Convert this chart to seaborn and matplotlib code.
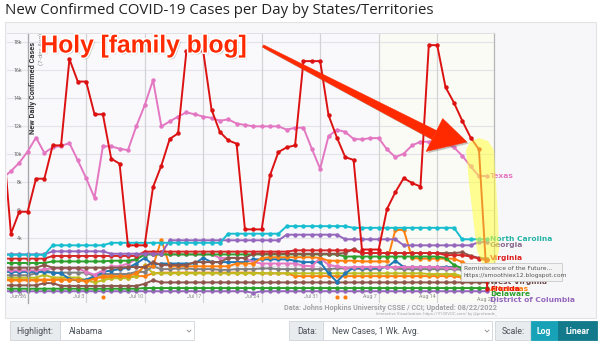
import numpy as np
import pandas as pd
import matplotlib
matplotlib.use("Agg")
import matplotlib.pyplot as plt
import seaborn as sns
import matplotlib.dates as mdates
from matplotlib.patches import Polygon, Rectangle
from matplotlib.lines import Line2D
from matplotlib import patheffects as pe
from matplotlib.transforms import ScaledTranslation

# ---------------- data (thousands of cases / day) ----------------
dates = pd.date_range("2022-06-23", "2022-08-20", freq="D")

florida = [11.5, 4.33, 5.9, 5.9, 8.26, 8.26, 10.64, 10.64, 16.8, 15.2, 15.2, 12.86, 12.86, 9.69, 9.33,
           3.5, 3.5, 3.5, 7.66, 9.2, 11.1, 11.5, 17.4, 17.4, 17.4, 13.2, 11.6, 11.0, 10.76, 4.64,
           4.64, 4.64, 8.5, 10.16, 10.5, 10.64, 16.66, 16.66, 16.66, 12.8, 11.2, 9.8, 9.6, 3.2, 3.2,
           3.2, 6.1, 7.3, 8.3, 7.95, 7.7, 17.8, 17.8, 14.8, 13.7, 12.4, 11.2, 10.35, 0.35]
texas = [8.3, 8.8, 9.4, 10.2, 11.2, 10.1, 10.5, 10.6, 10.8, 9.57, 8.3, 6.9, 10.57, 10.57, 10.4,
         10.3, 12.0, 13.5, 15.3, 12.0, 12.35, 12.7, 13.0, 12.86, 12.7, 12.6, 12.4, 12.5, 12.2, 12.1,
         12.0, 12.0, 12.0, 12.0, 11.76, 11.9, 11.9, 10.4, 8.97, 11.3, 11.76, 11.6, 11.1, 11.07, 11.16,
         11.16, 10.35, 9.8, 10.05, 10.64, 10.9, 10.9, 10.9, 10.8, 10.5, 9.9, 9.14, 8.45, 8.45]
north_carolina = [2.83, 2.83, 2.83, 2.83, 2.83, 2.83, 3.5, 3.5, 3.5, 3.5, 3.5, 3.5, 3.5, 3.68, 3.68,
                  3.68, 3.68, 3.68, 3.68, 3.68, 3.68, 3.68, 3.68, 3.68, 3.68, 3.68, 3.68, 4.33, 4.33, 4.33,
                  4.33, 4.33, 4.33, 4.33, 4.87, 4.87, 4.87, 4.87, 4.87, 4.87, 4.87, 4.87, 4.75, 4.75, 4.75,
                  4.75, 4.75, 4.75, 4.75, 4.75, 4.75, 4.75, 4.75, 4.75, 4.75, 3.93, 3.93, 3.93, 3.93]
georgia = [2.85, 2.85, 2.85, 2.85, 2.85, 2.85, 3.07, 3.07, 3.07, 3.07, 3.07, 3.07, 3.07, 2.9, 2.9,
           2.9, 2.9, 2.9, 2.9, 2.9, 3.86, 3.86, 3.86, 3.86, 3.86, 3.86, 3.86, 3.86, 3.86, 3.86,
           3.86, 3.86, 3.86, 3.86, 4.26, 4.26, 4.26, 4.26, 4.26, 4.26, 4.26, 3.93, 3.93, 3.93, 3.93,
           3.93, 3.93, 3.93, 3.5, 3.5, 3.5, 3.5, 3.5, 3.5, 3.5, 3.5, 3.5, 3.73, 3.73]
virginia = [2.55, 2.55, 2.55, 2.55, 2.55, 2.55, 2.74, 2.74, 2.74, 2.74, 2.74, 2.74, 2.74, 2.74, 2.74,
            2.74, 2.74, 3.05, 3.05, 3.05, 3.05, 3.05, 3.05, 3.05, 3.05, 3.05, 3.05, 3.05, 3.05, 3.05,
            3.05, 3.05, 3.05, 3.05, 3.05, 3.14, 3.14, 3.14, 3.14, 3.14, 3.14, 3.14, 3.14, 2.95, 2.95,
            2.95, 2.95, 2.95, 2.95, 2.95, 2.95, 2.95, 2.95, 2.8, 2.8, 2.8, 2.7, 2.55, 2.43]
pennsylvania = [1.9, 1.9, 1.9, 1.9, 1.9, 2.1, 1.9, 1.9, 1.9, 1.9, 1.9, 1.9, 1.9, 1.9, 1.9,
                1.95, 1.95, 1.95, 2.3, 2.1, 2.1, 2.1, 2.1, 2.3, 2.3, 2.3, 2.3, 2.6, 2.6, 2.6,
                2.9, 2.9, 2.9, 2.9, 2.9, 2.9, 2.9, 2.9, 2.9, 2.9, 2.9, 2.95, 3.25, 2.95, 2.95,
                2.95, 2.95, 2.95, 2.95, 2.95, 2.95, 2.95, 2.95, 2.95, 2.95, 3.0, 2.75, 2.6, 2.55]
green_mid = [2.24, 2.24, 2.24, 2.24, 2.24, 2.24, 2.35, 2.35, 2.35, 2.35, 2.35, 2.35, 2.35, 2.4, 2.4,
             2.4, 2.5, 2.83, 2.85, 2.85, 2.85, 2.85, 2.85, 2.85, 2.85, 2.85, 2.85, 2.85, 2.85, 2.85,
             2.85, 2.85, 2.85, 2.85, 2.85, 2.85, 2.85, 2.85, 2.85, 2.85, 2.85, 2.7, 2.7, 2.7, 2.7,
             2.7, 2.7, 2.7, 2.7, 2.7, 2.7, 2.7, 2.7, 2.6, 2.1, 1.85, 1.7, 1.6, 1.6]
pink_mid = [1.71, 1.71, 1.71, 1.71, 1.71, 1.8, 1.85, 1.85, 1.85, 1.85, 1.6, 1.4, 1.7, 2.0, 2.0,
            2.2, 2.5, 3.0, 2.85, 2.85, 2.85, 2.85, 2.85, 2.85, 2.85, 2.85, 2.6, 2.6, 2.6, 2.6,
            2.3, 2.2, 2.2, 2.2, 2.2, 2.2, 2.05, 2.0, 2.6, 2.1, 2.0, 1.9, 1.95, 1.95, 1.95,
            1.95, 1.95, 1.95, 1.95, 1.95, 1.95, 1.95, 1.95, 1.9, 1.9, 1.9, 1.75, 1.65, 1.6]
blue_mid = [1.6, 1.6, 1.6, 1.6, 1.6, 1.6, 1.55, 1.5, 1.1, 1.0, 1.05, 1.3, 1.6, 1.7, 1.8,
            1.9, 2.2, 2.6, 2.1, 2.2, 2.2, 2.2, 2.2, 2.2, 2.6, 2.3, 2.3, 2.3, 2.3, 2.3,
            2.5, 2.5, 2.5, 2.5, 2.5, 2.4, 2.3, 2.3, 2.3, 1.5, 0.9, 1.5, 1.9, 1.9, 1.9,
            1.9, 1.95, 2.4, 1.95, 1.95, 1.95, 1.95, 1.95, 1.95, 1.95, 1.9, 1.9, 1.7, 1.6]
gray_mid = [1.36, 1.36, 1.36, 1.36, 1.5, 1.75, 1.55, 1.55, 1.55, 1.55, 1.55, 1.3, 1.45, 1.45, 1.45,
            1.45, 1.6, 1.6, 2.0, 1.8, 1.8, 1.85, 1.85, 1.8, 1.8, 1.8, 1.75, 1.75, 1.8, 1.8,
            1.8, 1.85, 1.85, 1.8, 1.8, 1.8, 1.8, 1.8, 1.8, 1.8, 1.85, 1.85, 1.85, 1.8, 1.8,
            1.8, 2.0, 1.85, 1.8, 1.8, 1.8, 1.8, 1.8, 1.8, 1.8, 1.75, 1.65, 1.55, 1.55]
orange_mid = [1.0, 1.0, 1.0, 1.0, 1.0, 1.0, 1.05, 1.05, 1.05, 1.05, 0.95, 1.1, 1.3, 1.3, 1.3,
              1.3, 1.5, 2.0, 2.0, 3.9, 2.0, 2.0, 2.0, 2.0, 2.0, 2.0, 2.0, 2.0, 2.2, 2.2,
              2.2, 2.6, 2.65, 2.65, 2.65, 2.65, 2.65, 2.65, 2.6, 2.4, 2.4, 2.4, 2.4, 2.35, 2.35,
              2.35, 2.35, 4.6, 4.6, 2.6, 2.55, 2.55, 2.55, 2.55, 2.55, 2.3, 2.0, 1.9, 1.9]
arkansas = [1.05, 1.05, 1.05, 1.05, 1.05, 1.05, 1.05, 1.05, 1.05, 1.0, 0.95, 1.2, 1.2, 1.2, 1.2,
            1.2, 1.3, 1.3, 1.5, 1.55, 1.55, 1.55, 1.55, 1.55, 1.55, 1.55, 1.55, 1.55, 1.55, 1.55,
            1.55, 1.5, 1.5, 1.5, 1.5, 1.3, 1.3, 1.3, 1.3, 1.3, 1.3, 1.3, 1.3, 1.3, 1.3,
            1.3, 1.3, 1.3, 1.3, 1.3, 1.3, 1.3, 1.3, 1.3, 1.3, 1.2, 1.2, 1.2, 1.2]
olive_mid = [1.19, 1.19, 1.19, 1.19, 1.19, 1.4, 1.2, 1.2, 1.2, 1.2, 1.0, 0.85, 1.0, 1.15, 1.15,
             1.15, 1.3, 2.1, 1.5, 1.5, 1.5, 1.5, 1.5, 1.5, 1.5, 1.5, 1.5, 1.5, 1.5, 1.5,
             1.5, 1.5, 1.5, 1.5, 1.5, 1.5, 1.5, 1.5, 1.5, 1.5, 1.5, 1.5, 1.5, 1.5, 1.5,
             1.5, 1.5, 1.5, 1.5, 1.5, 1.5, 1.45, 1.45, 1.45, 1.45, 1.3, 1.3, 1.3, 1.3]
west_virginia = [0.64, 0.64, 0.64, 0.64, 0.64, 0.8, 0.8, 0.6, 0.6, 0.6, 0.6, 0.6, 0.6, 0.6, 0.6,
                 0.6, 0.6, 0.75, 1.0, 0.85, 0.85, 0.85, 0.85, 0.85, 0.85, 0.85, 0.85, 0.85, 0.85, 0.85,
                 0.85, 0.85, 0.85, 0.85, 0.85, 0.85, 0.85, 0.85, 0.85, 0.85, 0.85, 0.85, 0.85, 0.85, 0.85,
                 0.85, 0.85, 0.85, 0.85, 0.85, 0.85, 0.85, 0.85, 0.85, 0.85, 0.85, 0.85, 0.85, 0.85]
delaware = [0.4, 0.4, 0.4, 0.4, 0.4, 0.4, 0.4, 0.4, 0.4, 0.4, 0.4, 0.4, 0.4, 0.4, 0.4,
            0.4, 0.4, 0.45, 0.45, 0.45, 0.45, 0.45, 0.45, 0.45, 0.45, 0.45, 0.45, 0.45, 0.45, 0.45,
            0.45, 0.45, 0.45, 0.45, 0.45, 0.45, 0.45, 0.45, 0.45, 0.45, 0.45, 0.45, 0.45, 0.45, 0.45,
            0.45, 0.45, 0.45, 0.45, 0.45, 0.45, 0.45, 0.45, 0.45, 0.45, 0.45, 0.45, 0.45, 0.45]
district_of_columbia = [0.22, 0.22, 0.22, 0.22, 0.22, 0.22, 0.22, 0.22, 0.22, 0.22, 0.22, 0.22, 0.22, 0.22, 0.22,
                        0.22, 0.22, 0.22, 0.22, 0.22, 0.22, 0.22, 0.22, 0.22, 0.22, 0.22, 0.22, 0.22, 0.22, 0.22,
                        0.1, 0.22, 0.22, 0.22, 0.22, 0.22, 0.22, 0.22, 0.22, 0.22, 0.22, 0.22, 0.22, 0.22, 0.22,
                        0.22, 0.22, 0.22, 0.22, 0.22, 0.22, 0.22, 0.22, 0.22, 0.22, 0.22, 0.22, 0.22, 0.22]
# isolated negative (off-scale) reports shown as lone orange dots
negative_dates = ["2022-07-05", "2022-08-02", "2022-08-03"]
negative_vals = [-0.22, -0.22, -0.22]

y_ticks = [0, 2, 4, 6, 8, 10, 12, 14, 16, 18]
y_labels = ["0", "2k", "4k", "6k", "8k", "10k", "12k", "14k", "16k", "18k"]
x_ticks = ["2022-06-26", "2022-07-03", "2022-07-10", "2022-07-17", "2022-07-24",
           "2022-07-31", "2022-08-07", "2022-08-14"]
x_labels = ["Jun 26", "Jul 3", "Jul 10", "Jul 17", "Jul 24", "Jul 31", "Aug 7", "Aug 14"]

background = {
    "District of Columbia": (district_of_columbia, "#9467bd"),
    "Delaware": (delaware, "#2ca02c"),
    "West Virginia": (west_virginia, "#8c564b"),
    "Arkansas": (arkansas, "#ff7f0e"),
    "Olive": (olive_mid, "#bcbd22"),
    "Gray": (gray_mid, "#7f7f7f"),
    "Blue": (blue_mid, "#1f77b4"),
    "Pink": (pink_mid, "#e377c2"),
    "Orange": (orange_mid, "#ff7f0e"),
    "Green": (green_mid, "#2ca02c"),
    "Pennsylvania": (pennsylvania, "#8c564b"),
    "Virginia": (virginia, "#d62728"),
    "Georgia": (georgia, "#9467bd"),
    "North Carolina": (north_carolina, "#17becf"),
}

rows = []
for name, (vals, _) in background.items():
    for d, v in zip(dates, vals):
        rows.append((d, v, name))
bg = pd.DataFrame(rows, columns=["date", "value", "state"])
tx = pd.DataFrame({"date": dates, "value": texas, "state": "Texas"})
fl = pd.DataFrame({"date": dates, "value": florida, "state": "Florida"})
neg = pd.DataFrame({"date": pd.to_datetime(negative_dates), "value": negative_vals})

# ---------------- figure ----------------
W, H = 600, 344
def fx(px): return px / W
def fy(py): return 1 - py / H

sns.set_style("white")
plt.rcParams["font.family"] = ["Roboto", "DejaVu Sans"]
fig = plt.figure(figsize=(6.0, 3.44), dpi=100, facecolor="white")

fig.patches.append(Rectangle((fx(5), fy(318)), fx(596) - fx(5), fy(22) - fy(318),
                             transform=fig.transFigure, facecolor="#f7f7f9",
                             edgecolor="#e3e3e6", lw=0.8, zorder=-5))

ax = fig.add_axes([fx(6.5), fy(303), fx(494) - fx(6.5), fy(32.7) - fy(303)])
ax.set_facecolor("#f9f9fc")

x0 = mdates.date2num(pd.Timestamp("2022-06-26")) - 2.53
x1 = mdates.date2num(pd.Timestamp("2022-06-26")) + 55.8
ax.set_xlim(x0, x1)
ax.set_ylim(-0.62, 18.69)
ax.axvspan(mdates.date2num(pd.Timestamp("2022-08-07")), x1, color="#fbfbf5", zorder=0, lw=0)

for yt in y_ticks[1:]:
    ax.axhline(yt, color="#e3e3e9", lw=0.8, zorder=0.5)
for xt in x_ticks:
    ax.axvline(pd.Timestamp(xt), color="#d3d3d6", lw=0.9, zorder=0.6)

sns.lineplot(data=bg, x="date", y="value", hue="state", hue_order=list(background.keys()),
             palette={k: c for k, (_, c) in background.items()}, marker="o", markersize=3.2,
             markeredgewidth=0, linewidth=1.4, legend=False, ax=ax, sort=False, zorder=2)
sns.lineplot(data=tx, x="date", y="value", color="#e377c2", marker="o", markersize=3.2,
             markeredgewidth=0, linewidth=1.4, legend=False, ax=ax, sort=False, zorder=3)
sns.lineplot(data=fl, x="date", y="value", color="#dc1212", marker="o", markersize=3.2,
             markeredgewidth=0, linewidth=1.4, legend=False, ax=ax, sort=False, zorder=4)
sns.scatterplot(data=neg, x="date", y="value", color="#ff7f0e", s=9, linewidth=0, ax=ax,
                zorder=2, clip_on=False)

# axes styling
ax.spines["bottom"].set_visible(False)
ax.spines["top"].set_color("#e0e0e4")
ax.spines["top"].set_linewidth(0.7)
ax.spines["right"].set_color("#b5b5b8")
ax.spines["right"].set_linewidth(0.9)
ax.spines["left"].set_position(("data", mdates.date2num(pd.Timestamp("2022-06-26"))))
ax.spines["left"].set_color("#a8a8ab")
ax.spines["left"].set_linewidth(0.9)
ax.set_yticks(y_ticks)
ax.set_yticklabels(y_labels)
ax.tick_params(axis="y", length=3, width=0.6, color="#999999", labelsize=3.8,
               labelcolor="#666666", pad=1)
ax.set_xticks([pd.Timestamp(t) for t in x_ticks])
ax.set_xticklabels(x_labels)
ax.tick_params(axis="x", length=0, labelsize=3.8, labelcolor="#8a8a8a", pad=-6.2)
shift = ScaledTranslation(-2 / 100, 0, fig.dpi_scale_trans)
for lab in ax.get_xticklabels():
    lab.set_horizontalalignment("right")
    lab.set_transform(lab.get_transform() + shift)
ax.text(mdates.date2num(pd.Timestamp("2022-08-21")), 0, "Aug 21", fontsize=3.8, color="#8a8a8a",
        ha="right", va="top", clip_on=False,
        transform=ax.transData + ScaledTranslation(-2 / 100, -2.2 / 100, fig.dpi_scale_trans))
ax.set_xlabel("")
ax.set_ylabel("")

# y-axis title inside the plot
fig.text(fx(33.3), fy(87.5), "New Daily Confirmed Cases", rotation=90, fontsize=5.3,
         fontweight="bold", color="#333333", ha="center", va="center", family="Roboto")
fig.text(fx(41), fy(33), "(7-day Avg)", rotation=90, fontsize=4.6, color="#8d8d8d",
         ha="center", va="top", family="Roboto", zorder=1)

# right-hand state labels (Florida overprints Arkansas, as in the original)
labels = [("Texas", 8.45, "#e377c2"), ("North Carolina", 3.95, "#27b3a6"),
          ("Georgia", 3.5, "#8a6b8f"), ("Virginia", 2.56, "#e01f1f"),
          ("West Virginia", 0.86, "#6e4848"),
          ("Arkansas", 0.41, "#ff7f0e"), ("Florida", 0.41, "#ee1515"),
          ("Delaware", -0.01, "#2ca02c"), ("District of Columbia", -0.44, "#9467bd")]
lab_off = ScaledTranslation(2.5 / 100, 0, fig.dpi_scale_trans)
for name, yv, col in labels:
    ax.text(dates[-1], yv, name, fontsize=5.4, fontweight="bold", color=col, ha="left",
            va="center", family="DejaVu Sans", clip_on=False, zorder=6,
            transform=ax.transData + lab_off)

# title
fig.text(fx(5), fy(10.5), "New Confirmed COVID-19 Cases per Day by States/Territories",
         fontsize=10.8, color="#222222", ha="left", va="center", family="Open Sans")

# source texts
fig.text(fx(497), fy(307.5), "Data: Johns Hopkins University CSSE / CCI; Updated: 08/22/2022",
         fontsize=5.2, fontweight="bold", color="#a2a2a2", ha="right", va="center", family="Roboto")
fig.text(fx(497), fy(314.5), "Interactive Visualization: https://91-DIVOC.com/ by @profwade_",
         fontsize=3.1, color="#a8a8a8", ha="right", va="center", family="Roboto")

# highlighter stroke
hl = [(466, 150), (470, 142), (479, 138), (488, 141), (494, 150), (496, 183), (498, 217),
      (499, 250), (496, 262), (489, 266), (482, 263), (477, 250), (473, 217), (469, 183)]
fig.patches.append(Polygon([(fx(a), fy(b)) for a, b in hl], closed=True, transform=fig.transFigure,
                           facecolor="#ffff40", alpha=0.55, lw=0, zorder=5))

# big red arrow
tail = np.array([263.0, 46.0])
A = np.array([442.7, 118.5]); T = np.array([467.0, 142.0]); B = np.array([426.0, 151.5])
M = (A + B) / 2
d = (M - tail) / np.linalg.norm(M - tail)
n = np.array([-d[1], d[0]])
pts = [tail + n * 1.3, M + n * 5.0, A, T, B, M - n * 5.0, tail - n * 1.3]
arrow = Polygon([(fx(p[0]), fy(p[1])) for p in pts], closed=True, transform=fig.transFigure,
                facecolor="#ff2a00", edgecolor="#ff2a00", lw=0.3, zorder=6)
arrow.set_path_effects([pe.SimplePatchShadow(offset=(1.2, -1.2), shadow_rgbFace="#555555", alpha=0.35),
                        pe.Normal()])
fig.patches.append(arrow)

# exclamation text
fig.text(fx(40.5), fy(52.5), "Holy [family blog]", fontsize=17.7, fontweight="bold",
         color="#ff2a00", family="Liberation Sans", ha="left", va="baseline", zorder=7,
         path_effects=[pe.SimplePatchShadow(offset=(1.2, -1.2), shadow_rgbFace="#666666", alpha=0.35),
                       pe.withStroke(linewidth=2.2, foreground="white")])

# browser tooltip
fig.patches.append(Rectangle((fx(461), fy(281)), fx(562) - fx(461), fy(263) - fy(281),
                             transform=fig.transFigure, facecolor="#f3f3f3", edgecolor="#c9c9c9",
                             lw=0.6, zorder=8))
fig.text(fx(464), fy(268), "Reminiscence of the Future...", fontsize=4.3, color="#555555",
         ha="left", va="center", zorder=9, family="DejaVu Sans")
fig.text(fx(464), fy(276), "https://smoothiex12.blogspot.com", fontsize=4.3, color="#555555",
         ha="left", va="center", zorder=9, family="DejaVu Sans")

# control row
def box(x0_, x1_, fc, ec="#ced4da"):
    fig.patches.append(Rectangle((fx(x0_), fy(340)), fx(x1_) - fx(x0_), fy(321) - fy(340),
                                 transform=fig.transFigure, facecolor=fc, edgecolor=ec, lw=0.6, zorder=2))
def chevron(xc):
    fig.lines.append(Line2D([fx(xc - 2), fx(xc), fx(xc + 2)], [fy(330), fy(332), fy(330)],
                            transform=fig.transFigure, color="#888888", lw=0.6, zorder=3))

box(9.6, 60, "#e9ecef"); box(60, 194, "white")
box(289, 323, "#e9ecef"); box(323, 492, "white")
box(495, 530, "#e9ecef"); box(530.5, 558, "#17a2b8", "#17a2b8"); box(558, 597, "#127a8a", "#127a8a")
chevron(189); chevron(487)
ctrl = dict(fontsize=6.2, va="center", family="Roboto", zorder=4)
fig.text(fx(16), fy(331), "Highlight:", color="#495057", ha="left", **ctrl)
fig.text(fx(69), fy(331), "Alabama", color="#495057", ha="left", **ctrl)
fig.text(fx(297), fy(331), "Data:", color="#495057", ha="left", **ctrl)
fig.text(fx(332), fy(331), "New Cases, 1 Wk. Avg.", color="#495057", ha="left", **ctrl)
fig.text(fx(502), fy(331), "Scale:", color="#495057", ha="left", **ctrl)
fig.text(fx(544), fy(331), "Log", color="white", ha="center", fontweight="bold", **ctrl)
fig.text(fx(577.5), fy(331), "Linear", color="white", ha="center", fontweight="bold", **ctrl)

fig.savefig("out.png", dpi=100, facecolor="white")
